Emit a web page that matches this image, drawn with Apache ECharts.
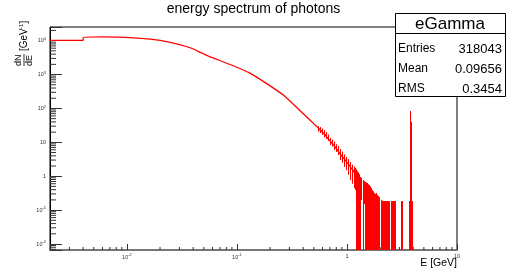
<!DOCTYPE html>
<html><head><meta charset="utf-8">
<script src="https://cdn.jsdelivr.net/npm/echarts@6/dist/echarts.min.js"></script>
<style>html,body{margin:0;padding:0;background:#fff}#c{width:507px;height:278px}</style>
</head><body><div id="c"></div>
<script>
// ---- data ----
const title = 'energy spectrum of photons';
const xTickLabels = [[0.01,'10','-2'],[0.1,'10','-1'],[1,'1',''],[10,'10','']];
const yTickLabels = [[0.01,'10','-2'],[0.1,'10','-1'],[1,'1',''],[10,'10',''],[100,'10','2'],[1000,'10','3'],[10000,'10','4']];
// smooth part of the spectrum (E in GeV, dN/dE)
const curveE = [0.002,0.004,0.004,0.006,0.0087,0.0163,0.0248,0.0376,0.0464,0.055,0.0925,0.1325,0.185,0.264,0.377,0.463,0.572,0.635,0.705,0.783,0.869,0.965,1.072,1.19];
const curveV = [10200,10200,12500,13000,12800,11100,8900,6180,4520,3520,1820,1085,550,248,84,45,23,16.5,10.8,7.2,4.5,3.0,1.9,1.2];
// statistical error bars in the tail (E, low, high); low 0 = down to axis
const errE  = [0.548,0.572,0.596,0.622,0.648,0.676,0.705,0.735,0.766,0.799,0.834,0.869,0.906,0.945,0.985,1.028,1.072,1.117,1.165,1.190,1.215,1.240,1.267,1.294,1.321,1.349,1.406,1.436,1.467,1.498,1.529,1.562,1.595,1.628,1.663,1.698,1.734,1.771,1.808,1.846,1.885,1.925,1.966,2.050,2.093,2.138,2.183,2.229,2.276,2.324,2.373,2.424,2.527,2.581,2.635,2.692,2.749,3.116,3.182,3.685,3.763,3.842,3.924];
const errLo = [20.5,18.8,16.5,14,12.5,11,8.3,7.5,6,5.2,4.2,3.0,2.5,1.9,1.5,1.1,0.773,0.6,0.45,0.39,0,0,0,0,0,0.2,0,0.15,0,0,0,0,0,0,0,0,0,0,0,0,0,0,0,0,0,0,0,0,0,0,0,0,0,0,0,0,0,0,0,0,0,0,0];
const errHi = [30,28.3,25.5,23,20,17,13.4,12,10.5,8.8,7.8,6.34,5.3,4.4,3.7,3.2,2.62,2.2,1.9,1.75,1.6,1.42,1.3,1.15,0.95,0.9,0.77,0.72,0.68,0.65,0.63,0.58,0.55,0.5,0.45,0.39,0.36,0.32,0.3,0.32,0.28,0.26,0.24,0.2,0.19,0.185,0.185,0.185,0.185,0.185,0.185,0.185,0.185,0.185,0.185,0.185,0.185,0.185,0.185,0.185,84,40,0.185];
const stats = {name:'eGamma', rows:[['Entries','318043'],['Mean','0.09656'],['RMS','0.3454']]};
const X_MIN = 0.002, X_MAX = 10, Y_MIN = 0.00665, Y_MAX = 25300;

const xMinor = [], yMinor = [];
for (let k=-3;k<=1;k++) for (let m=2;m<=9;m++){const v=m*Math.pow(10,k); if(v>X_MIN&&v<X_MAX) xMinor.push([v,Y_MIN]);}
for (let k=-3;k<=4;k++) for (let m=2;m<=9;m++){const v=m*Math.pow(10,k); if(v>Y_MIN&&v<Y_MAX) yMinor.push([X_MIN,v]);}

function fmt(list){
  return function(val){
    for (const t of list){ if (Math.abs(Math.log10(val)-Math.log10(t[0]))<1e-6) return t[2]?('{b|'+t[1]+'}{s|'+t[2]+'}'):('{b|'+t[1]+'}'); }
    return '';
  };
}
const labRich = {b:{fontSize:5.5,color:'#333',fontFamily:'Liberation Sans'}, s:{fontSize:4,color:'#333',fontFamily:'Liberation Sans',padding:[0,0,4,0]}};

const chart = echarts.init(document.getElementById('c'), null, {renderer:'canvas'});
const option = {
  animation:false,
  backgroundColor:'#fff',
  grid:{left:50,right:50,top:27,bottom:28,show:true,borderColor:'#000',borderWidth:1,backgroundColor:'transparent'},
  xAxis:{type:'log',logBase:10,min:X_MIN,max:X_MAX,
    axisLine:{show:true,lineStyle:{color:'#777',width:2}},
    axisTick:{show:true,inside:true,length:6,lineStyle:{color:'#333'}},
    splitLine:{show:false},minorTick:{show:false},
    axisLabel:{formatter:fmt(xTickLabels),rich:labRich,margin:3,showMinLabel:false,showMaxLabel:true}},
  yAxis:{type:'log',logBase:10,min:Y_MIN,max:Y_MAX,
    axisLine:{show:true,lineStyle:{color:'#000',width:1}},
    axisTick:{show:true,inside:true,length:12,lineStyle:{color:'#333'}},
    splitLine:{show:false},
    axisLabel:{formatter:fmt(yTickLabels),rich:labRich,margin:4,align:'right'}},
  series:[
    {type:'line',data:curveE.map((e,i)=>[e,curveV[i]]),showSymbol:false,smooth:0.2,lineStyle:{color:'#ff0000',width:1.3},itemStyle:{color:'#ff0000'},z:3},
    {type:'custom',clip:true,data:errE.map((e,i)=>[e,errLo[i],errHi[i]]),z:3,
      renderItem:function(p,api){
        const e=api.value(0), lo=api.value(1), hi=api.value(2);
        const top=api.coord([e,hi]);
        const bot=lo>0?api.coord([e,lo]):api.coord([e,Y_MIN]);
        const xx=Math.round(top[0])+0.5;
        return {type:'line',shape:{x1:xx,y1:top[1],x2:xx,y2:bot[1]},style:{stroke:'#ff0000',lineWidth:1}};
      }},
    {type:'custom',clip:false,data:xMinor,silent:true,
      renderItem:function(p,api){const c=api.coord([api.value(0),api.value(1)]);
        return {type:'line',shape:{x1:c[0],y1:c[1],x2:c[0],y2:c[1]-3},style:{stroke:'#333',lineWidth:1}};}},
    {type:'custom',clip:false,data:yMinor,silent:true,
      renderItem:function(p,api){const c=api.coord([api.value(0),api.value(1)]);
        return {type:'line',shape:{x1:c[0],y1:c[1],x2:c[0]+6,y2:c[1]},style:{stroke:'#333',lineWidth:1}};}}
  ],
  graphic:[
    {type:'text',left:'center',top:2,style:{text:title,font:'14px "Liberation Sans"',fill:'#000'}},
    {type:'text',x:457,y:258,style:{text:'E [GeV]',font:'10.5px "Liberation Sans"',fill:'#000',textAlign:'right',textVerticalAlign:'top'}},
    {type:'group',x:24,y:66,rotation:Math.PI/2,children:[
      {type:'text',x:0,y:-1,style:{text:'dN',font:'9px "Liberation Sans"',fill:'#000',textVerticalAlign:'bottom'}},
      {type:'line',shape:{x1:0,y1:0,x2:12,y2:0},style:{stroke:'#000',lineWidth:0.8}},
      {type:'text',x:0,y:1,style:{text:'dE',font:'9px "Liberation Sans"',fill:'#000',textVerticalAlign:'top'}},
      {type:'text',x:15,y:0,style:{text:'[GeV',font:'10px "Liberation Sans"',fill:'#000',textVerticalAlign:'middle'}},
      {type:'text',x:37,y:-3,style:{text:'-1',font:'6px "Liberation Sans"',fill:'#000',textVerticalAlign:'middle'}},
      {type:'text',x:42.5,y:0,style:{text:']',font:'10px "Liberation Sans"',fill:'#000',textVerticalAlign:'middle'}}
    ]},
    {type:'rect',shape:{x:395.5,y:13.5,width:110,height:83},style:{fill:'#fff',stroke:'#000',lineWidth:1},z:100},
    {type:'line',shape:{x1:395.5,y1:33.5,x2:505.5,y2:33.5},style:{stroke:'#000',lineWidth:1},z:101},
    {type:'text',x:450,y:24,style:{text:stats.name,font:'17px "Liberation Sans"',fill:'#000',textAlign:'center',textVerticalAlign:'middle'},z:101},
    ...stats.rows.flatMap((r,i)=>[
      {type:'text',x:398,y:49+20*i,style:{text:r[0],font:'12px "Liberation Sans"',fill:'#000',textVerticalAlign:'middle'},z:101},
      {type:'text',x:502,y:49+20*i,style:{text:r[1],font:'13px "Liberation Sans"',fill:'#000',textAlign:'right',textVerticalAlign:'middle'},z:101}
    ])
  ]
};
chart.setOption(option);
</script></body></html>
